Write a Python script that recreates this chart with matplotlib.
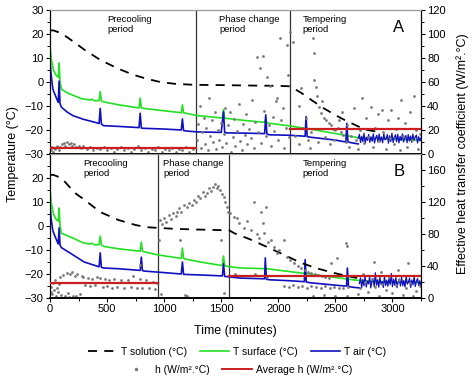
import numpy as np
import matplotlib.pyplot as plt
from matplotlib.lines import Line2D
from matplotlib.ticker import MultipleLocator

plt.rcParams['font.family'] = ['Liberation Sans', 'DejaVu Sans']

# ---------------- Panel A data ----------------
tA_sol = [0, 30, 100, 200, 300, 440, 600, 730, 850, 965, 1100, 1280, 1500, 1800, 2000, 2105,
          2200, 2290, 2400, 2500, 2580, 2700, 2780, 2900]
A_sol = [21.5, 21.5, 20.3, 17, 13.5, 9.2, 5.5, 3, 1.3, 0, -0.8, -1.2, -1.3, -1.5, -1.6, -1.8,
         -4.5, -7.5, -11, -13.8, -15.8, -18.5, -20, -21]

tA_surf = [0, 10, 30, 50, 72, 80, 88, 100, 150, 200, 280, 350, 370, 390, 430, 440, 450, 470,
           600, 780, 790, 800, 820, 1000, 1150, 1160, 1170, 1190, 1290, 1400, 1510, 1520,
           1530, 1550, 1700, 1880, 1890, 1900, 1920, 2100, 2300, 2500, 2700, 3000, 3250]
A_surf = [15.4, 10, 5, 3, 2, 7.9, 0, -3, -4.5, -5.5, -7, -7.5, -7.2, -7.8, -7.8, -4, -7.8, -8.3,
          -9.5, -10.8, -6.7, -10.8, -11, -12, -12.8, -9.5, -12.8, -13, -14, -14.5, -15, -11.5,
          -15, -15.2, -16, -16.8, -15.5, -17, -17.2, -18.3, -19.8, -21.5, -23.2, -23.8, -24.3]

tA_air = [0, 10, 25, 50, 72, 80, 88, 100, 150, 200, 290, 410, 430, 440, 450, 470, 600, 780,
          790, 800, 820, 1000, 1150, 1160, 1170, 1190, 1290, 1500, 1520, 1530, 1550, 1700,
          1880, 1890, 1900, 1920, 2100, 2235, 2243, 2253, 2280, 2500, 2592, 2600, 2610, 2640,
          2700]
A_air = [9.2, 3, -3, -6, -8.5, 0.4, -9, -10.5, -12.5, -14, -15.5, -17, -17.3, -11, -17.5,
         -18.2, -18.5, -19, -13, -19.2, -19.3, -19.6, -20, -15.4, -20.2, -20.4, -20.8, -21,
         -12.4, -21, -21.2, -21.3, -21.5, -13.7, -21.6, -22, -22.2, -22.6, -14.4, -22.8, -23,
         -24.2, -25, -17.2, -25, -25.3, -25.8]
A_air_tail = [-23.5, -21.8, -25.2, -22.6, -24.9, -21.4, -25.6, -23.0, -24.3, -21.9, -25.1,
              -22.8, -24.7, -21.6, -25.4, -23.3, -22.2, -25.0, -21.7, -24.6, -22.9, -25.3,
              -21.5, -24.1, -23.6, -21.9, -25.5, -22.4, -24.8, -21.3, -25.2, -23.1, -22.0,
              -24.9, -21.8, -25.4, -22.7, -24.4, -21.6, -25.0, -23.4, -22.3, -25.3, -21.9,
              -24.6, -22.5, -25.1, -21.7, -24.2, -23.0, -22.1, -25.4, -22.8, -24.5, -23.2]

A_h_dots = [
    # precooling
    (5, 3), (15, 6), (25, 2), (35, 5), (45, 4), (60, 7), (75, 3), (90, 6), (105, 8), (120, 9),
    (135, 7), (150, 10), (165, 8), (180, 9), (195, 7), (210, 8), (230, 6), (250, 7), (270, 5),
    (290, 7), (320, 4), (350, 6), (380, 3), (410, 5), (440, 4), (470, 6), (500, 3), (530, 5),
    (560, 2), (590, 4), (620, 6), (650, 3), (680, 5), (710, 2), (740, 4), (770, 7), (800, 3),
    (830, 5), (860, 2), (890, 4), (920, 3), (950, 6), (980, 2), (1010, 4), (1040, 3),
    (1070, 5), (1100, 2), (1130, 4), (1160, 3), (1190, 6), (1220, 2), (1250, 4),
    # phase change
    (1290, 12), (1300, 25), (1310, 40), (1320, 5), (1335, 18), (1345, 30), (1360, 8),
    (1370, 22), (1385, 3), (1395, 47), (1405, 15), (1420, 28), (1430, 10), (1445, 35),
    (1455, 4), (1470, 20), (1480, 12), (1495, 26), (1505, 6), (1520, 17), (1535, 38),
    (1545, 9), (1560, 24), (1575, 35), (1585, 2), (1600, 14), (1615, 29), (1625, 7),
    (1640, 19), (1655, 42), (1665, 11), (1680, 3), (1690, 25), (1705, 16), (1715, 33),
    (1730, 8), (1745, 21), (1760, 13), (1770, 45), (1785, 5), (1800, 27), (1815, 81),
    (1825, 18), (1840, 72), (1850, 9), (1865, 82), (1875, 36), (1890, 15), (1905, 64),
    (1915, 24), (1930, 57), (1940, 7), (1955, 31), (1965, 19), (1980, 44), (1990, 47),
    (2000, 12), (2018, 97), (2025, 28), (2040, 38), (2050, 5), (2065, 22), (2079, 91),
    (2085, 66), (2095, 14), (2100, 102),
    # tempering
    (2130, 93), (2300, 97), (2316, 84), (2310, 62), (2333, 56), (2340, 48), (2360, 39),
    (2370, 34), (2385, 44), (2400, 30), (2421, 28), (2440, 26), (2465, 24), (2480, 21),
    (2500, 20), (2520, 22), (2552, 18), (2570, 16), (2150, 15), (2180, 8), (2210, 22),
    (2240, 30), (2260, 12), (2280, 5), (2290, 18), (2350, 10), (2410, 14), (2450, 8),
    (2490, 12), (2530, 28), (2560, 35), (2590, 10), (2600, 24), (2620, 6), (2640, 15),
    (2660, 38), (2680, 12), (2700, 4), (2720, 20), (2737, 47), (2750, 9), (2770, 30),
    (2790, 14), (2816, 39), (2830, 6), (2850, 22), (2870, 33), (2880, 11), (2904, 37),
    (2920, 18), (2940, 4), (2960, 28), (2975, 13), (2991, 37), (3010, 8), (3030, 21),
    (3050, 30), (3065, 3), (3079, 45), (3095, 15), (3110, 26), (3130, 6), (3150, 35),
    (3170, 12), (3193, 48), (3205, 20), (3220, 4), (3240, 17), (2180, 40), (2200, 55),
]
A_avg_h = [(0, 1280, 5), (2105, 3250, 21)]
A_periods = [1280, 2105]

# ---------------- Panel B data ----------------
tB_sol = [0, 30, 100, 220, 300, 440, 600, 750, 850, 950, 1100, 1316, 1570, 1614, 1750, 1900,
          2050, 2200, 2350, 2490, 2600, 2690]
B_sol = [21.3, 21.3, 20, 13.7, 11, 5.8, 2.5, 0.4, -0.5, -0.8, -1.2, -1.5, -1.8, -3, -5.5,
         -8.7, -12, -15.4, -17.8, -19.6, -20.8, -21.7]

tB_surf = [0, 10, 30, 50, 72, 80, 88, 100, 200, 290, 350, 370, 390, 430, 440, 450, 470, 600,
           790, 800, 810, 830, 940, 1150, 1160, 1170, 1190, 1316, 1510, 1520, 1530, 1550,
           1666, 1900, 2100, 2340, 2665, 2800, 3000, 3250]
B_surf = [15.8, 10, 5, 3, 2, 7.5, 0, -3, -5, -7, -7.5, -7.2, -7.8, -7.8, -4.2, -7.8, -8.5,
          -9.5, -10.5, -6.7, -10.5, -10.8, -12, -13.5, -9.2, -13.5, -13.8, -15, -16.5, -12.5,
          -16.5, -16.8, -17.5, -17.8, -19, -20.4, -22.5, -23, -23.3, -23.5]

tB_air = [0, 10, 25, 50, 72, 80, 88, 100, 200, 300, 430, 440, 450, 470, 600, 790, 800, 810,
          830, 940, 1150, 1160, 1170, 1190, 1316, 1510, 1520, 1530, 1550, 1666, 1880, 1886,
          1896, 1920, 2100, 2228, 2235, 2245, 2270, 2400, 2580, 2598, 2605, 2615, 2650, 2710]
B_air = [9.6, 3, -2, -5, -7.5, -0.8, -8, -9, -12, -15, -17, -11.2, -17.2, -17.5, -17.8,
         -18.5, -13, -18.6, -18.8, -19.2, -20, -15, -20.1, -20.2, -20.4, -20.8, -15.8, -21,
         -21.1, -21.7, -22, -13.3, -22.2, -22.4, -22.8, -23.2, -14, -23.3, -23.6, -24.2, -25,
         -25, -17.5, -25.2, -25.5, -25.8]
B_air_tail = [-24.0, -21.6, -25.7, -22.3, -24.9, -20.8, -25.4, -22.9, -24.1, -21.2, -25.8,
              -23.0, -22.0, -25.2, -19.5, -24.7, -22.4, -25.5, -21.4, -24.3, -23.1, -25.6,
              -21.0, -24.8, -22.6, -25.1, -21.8, -24.4, -19.8, -25.3, -22.2, -24.6, -21.5,
              -25.7, -23.3, -22.1, -25.0, -21.3, -24.9, -22.7, -25.4, -20.9, -24.2, -23.4,
              -21.7, -25.6, -22.5, -24.5, -21.1, -25.2, -23.0, -21.9, -24.8, -22.8, -25.3]

B_h_dots = [
    # precooling
    (5, 8), (12, 14), (20, 5), (28, 19), (36, 10), (44, 22), (52, 3), (60, 12), (70, 7),
    (80, 17), (88, 26), (100, 4), (115, 29), (130, 2), (146, 31), (160, 6), (175, 30),
    (190, 33), (205, 3), (220, 28), (240, 30), (260, 5), (280, 27), (292, 26), (310, 16),
    (330, 25), (350, 15), (370, 24), (390, 16), (410, 26), (439, 25), (460, 14), (480, 24),
    (500, 15), (520, 23), (540, 13), (560, 24), (590, 14), (620, 22), (650, 13), (680, 23),
    (710, 14), (730, 27), (760, 12), (790, 24), (810, 13), (840, 22), (870, 12), (900, 20),
    (920, 11), (940, 19), (170, 1), (230, 2), (790, 41),
    # phase change
    (955, 72), (965, 97), (980, 92), (1000, 100), (1020, 95), (1040, 104), (1060, 99),
    (1080, 106), (1100, 103), (1111, 107), (1130, 112), (1150, 108), (1170, 116),
    (1199, 114), (1220, 119), (1240, 116), (1260, 123), (1280, 120), (1300, 127),
    (1316, 125), (1340, 132), (1360, 128), (1374, 131), (1390, 137), (1410, 134),
    (1430, 139), (1445, 143), (1460, 137), (1475, 140), (1491, 135), (1505, 130),
    (1520, 126), (1535, 120), (1550, 114), (1560, 108), (1140, 72), (1500, 72), (1182, 4),
    (1523, 6), (970, 5), (1200, 3),
    # tempering
    (1580, 106), (1608, 101), (1640, 100), (1660, 94), (1700, 88), (1730, 96), (1760, 85),
    (1790, 120), (1810, 80), (1830, 75), (1851, 108), (1865, 94), (1877, 81), (1895, 114),
    (1910, 70), (1939, 72), (1965, 64), (1991, 56), (2010, 60), (2053, 72), (2079, 51),
    (2100, 48), (2140, 44), (2170, 40), (2200, 38), (2230, 35), (2260, 33), (2290, 31),
    (2320, 30), (2350, 29), (2380, 27), (2410, 26), (2440, 25), (2465, 44), (2518, 50),
    (2596, 69), (2600, 65), (2842, 45), (3132, 44),
    (2050, 15), (2090, 14), (2130, 16), (2170, 14), (2210, 15), (2250, 13), (2290, 15),
    (2330, 14), (2370, 13), (2410, 15), (2450, 12), (2490, 14), (2530, 13), (2570, 12),
    (2610, 14), (2300, 3), (2400, 4), (2500, 2), (2600, 3), (2700, 5), (2720, 12),
    (2760, 20), (2790, 8), (2820, 24), (2850, 14), (2880, 3), (2910, 18), (2940, 10),
    (2970, 26), (3000, 6), (3030, 16), (3060, 22), (3090, 4), (3120, 12), (3150, 19),
    (3180, 2), (3210, 9), (3240, 15), (2740, 30), (2900, 33), (3050, 35), (1620, 30),
    (1700, 28), (1800, 30), (1900, 26),
]
B_avg_h = [(0, 950, 18.6), (1570, 3250, 28)]
B_periods = [950, 1570]

period_names = ['Precooling\nperiod', 'Phase change\nperiod', 'Tempering\nperiod']

GREEN = '#22e022'
BLUE = '#1010c0'
RED = '#c8201e'
GRAY = '#7a7a7a'

fig = plt.figure(figsize=(4.74, 3.83), dpi=100)
L, W = 50 / 474, 371 / 474
H = 144 / 383
axA = fig.add_axes([L, 1 - 154 / 383, W, H])
axB = fig.add_axes([L, 1 - 298 / 383, W, H])


def draw_panel(ax, tsol, sol, tsurf, surf, tair, air, tail, dots, avg, periods,
               hmax, hstep, label, text_x, yticks):
    ax.plot(tsurf, surf, color=GREEN, lw=1.2, zorder=3)
    ax.plot(tair, air, color=BLUE, lw=1.2, zorder=4)
    ttail = np.linspace(tair[-1], 3250, len(tail))
    ax.plot(ttail, tail, color=BLUE, lw=0.9, zorder=4)
    ax.plot(tsol, sol, color='black', lw=1.3, ls=(0, (5, 4)), zorder=5)
    for p in periods:
        ax.axvline(p, color='#333333', lw=0.9, zorder=2)
    ax.set_xlim(0, 3250)
    ax.set_ylim(-30, 30)
    ax.set_yticks(yticks)
    ax.yaxis.set_minor_locator(MultipleLocator(5))
    ax.xaxis.set_major_locator(MultipleLocator(500))
    ax.xaxis.set_minor_locator(MultipleLocator(250))
    ax.tick_params(labelsize=8, length=3, width=0.8, pad=1.5)
    ax.tick_params(which='minor', length=2, width=0.7)

    h = ax.twinx()
    ht, hv = zip(*dots)
    h.scatter(ht, hv, s=4, color=GRAY, linewidths=0, zorder=1)
    for t0, t1, v in avg:
        h.plot([t0, t1], [v, v], color=RED, lw=1.6, zorder=6)
    h.set_ylim(0, hmax)
    h.set_yticks(np.arange(0, hmax + 0.1, hstep))
    h.yaxis.set_minor_locator(MultipleLocator(hstep / 2))
    h.tick_params(labelsize=8, length=3, width=0.8, pad=1.5)
    h.tick_params(which='minor', length=2, width=0.7)
    for a in (ax, h):
        a.spines['top'].set_color('#999999')
        a.spines['bottom'].set_linewidth(1.2)
    ax.text(0.955, 0.93, label, transform=ax.transAxes, fontsize=12, ha='right', va='top')
    for tx, name in zip(text_x, period_names):
        ax.text(tx, 28, name, fontsize=6.8, ha='left', va='top', linespacing=1.2)
    return h


hA = draw_panel(axA, tA_sol, A_sol, tA_surf, A_surf, tA_air, A_air, A_air_tail, A_h_dots,
                A_avg_h, A_periods, 120, 20, 'A', [500, 1480, 2210],
                [-30, -20, -10, 0, 10, 20, 30])
hB = draw_panel(axB, tB_sol, B_sol, tB_surf, B_surf, tB_air, B_air, B_air_tail, B_h_dots,
                B_avg_h, B_periods, 180, 40, 'B', [290, 990, 2210],
                [-30, -20, -10, 0, 10, 20])
axA.tick_params(labelbottom=False)
axB.set_xlabel('Time (minutes)', fontsize=9, labelpad=8)
fig.text(0.027, 0.598, 'Temperature (°C)', rotation=90, fontsize=9, ha='center', va='center')
fig.text(0.975, 0.598, 'Effective heat transfer coefficient (W/m².°C)', rotation=90,
         fontsize=9, ha='center', va='center')

row1 = [Line2D([], [], color='black', lw=1.3, ls=(0, (5, 4))),
        Line2D([], [], color=GREEN, lw=1.2),
        Line2D([], [], color=BLUE, lw=1.2)]
row2 = [Line2D([], [], color=GRAY, marker='o', ms=1.5, ls='none'),
        Line2D([], [], color=RED, lw=1.4)]
kw = dict(frameon=False, fontsize=7.5, handlelength=2.8, handletextpad=0.4,
          columnspacing=1.2, loc='center')
fig.legend(row1, ['T solution (°C)', 'T surface (°C)', 'T air (°C)'], ncol=3,
           bbox_to_anchor=(0.5, 0.081), **kw)
fig.legend(row2, ['h (W/m².°C)', 'Average h (W/m².°C)'], ncol=2,
           bbox_to_anchor=(0.5, 0.034), **kw)

fig.savefig('out.png', dpi=100)
